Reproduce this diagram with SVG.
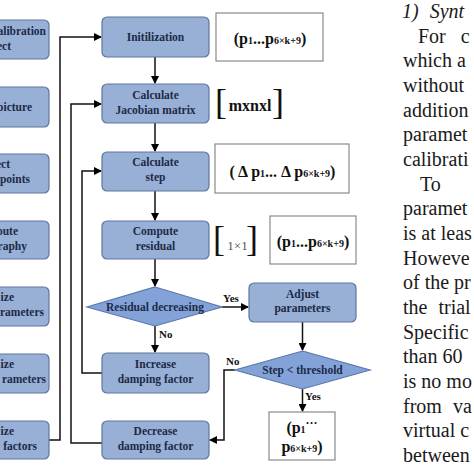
<svg xmlns="http://www.w3.org/2000/svg" width="474" height="474" viewBox="0 0 474 474">
<defs>
<marker id="ah" markerWidth="8" markerHeight="8" refX="7" refY="4" orient="auto" markerUnits="userSpaceOnUse">
<path d="M0,0 L8,4 L0,8 Z" fill="#000"/>
</marker>
<style>
.box{fill:#98b0d5;stroke:#5f769c;stroke-width:1.2}
.dia{fill:#83a3d8;stroke:#5a78ab;stroke-width:1.2}
.wb{fill:#fff;stroke:#8a8a8a;stroke-width:1.2}
.t{font-family:"Liberation Serif","Times New Roman",serif;font-weight:bold;font-size:11.5px;fill:#1c2a48;text-anchor:middle}
.tl{font-family:"Liberation Serif","Times New Roman",serif;font-weight:bold;font-size:11.5px;fill:#1c2a48;text-anchor:end}
.lab{font-family:"Liberation Serif","Times New Roman",serif;font-weight:bold;font-size:11px;fill:#111}
.m{font-family:"Liberation Serif","Times New Roman",serif;font-weight:bold;font-size:16px;fill:#111;text-anchor:middle}
.br{font-family:"Liberation Serif","Times New Roman",serif;font-size:36px;fill:#111}
.p{font-family:"Liberation Serif","Times New Roman",serif;font-size:20px;fill:#1a1a1a}
.c{fill:none;stroke:#111;stroke-width:1.5}
</style>
</defs>

<g id="connectors">
<path class="c" d="M49,440 H60 V37 H101" marker-end="url(#ah)"/>
<path class="c" d="M102,443 H71 V104 H101" marker-end="url(#ah)"/>
<path class="c" d="M102,373 H82 V171 H101" marker-end="url(#ah)"/>
<path class="c" d="M155,57 V83" marker-end="url(#ah)"/>
<path class="c" d="M155,123 V151" marker-end="url(#ah)"/>
<path class="c" d="M155,191 V220" marker-end="url(#ah)"/>
<path class="c" d="M155,259 V286" marker-end="url(#ah)"/>
<path class="c" d="M155,326 V352" marker-end="url(#ah)"/>
<path class="c" d="M222,307 H248" marker-end="url(#ah)"/>
<path class="c" d="M302.5,322 V350" marker-end="url(#ah)"/>
<path class="c" d="M235,370 H224 V440 H210" marker-end="url(#ah)"/>
<path class="c" d="M302.5,389 V411" marker-end="url(#ah)"/>
<text class="lab" x="159" y="338">No</text>
<text class="lab" x="223" y="302">Yes</text>
<text class="lab" x="226" y="365">No</text>
<text class="lab" x="305" y="400">Yes</text>
</g>

<g id="left1"><rect class="box" x="-60" y="20" width="109" height="39" rx="5"/><text class="tl" x="46" y="35">alibration</text><text class="tl" x="11" y="50">ect</text></g>
<g id="left2"><rect class="box" x="-60" y="87" width="109" height="40" rx="5"/><text class="tl" x="32" y="111">picture</text></g>
<g id="left3"><rect class="box" x="-60" y="154" width="109" height="39" rx="5"/><text class="tl" x="10" y="168">ect</text><text class="tl" x="30" y="183">points</text></g>
<g id="left4"><rect class="box" x="-60" y="221" width="109" height="38" rx="5"/><text class="tl" x="18" y="235">oute</text><text class="tl" x="27" y="250">raphy</text></g>
<g id="left5"><rect class="box" x="-60" y="287" width="109" height="39" rx="5"/><text class="tl" x="14" y="301">ize</text><text class="tl" x="44" y="316">parameters</text></g>
<g id="left6"><rect class="box" x="-60" y="354" width="109" height="39" rx="5"/><text class="tl" x="14" y="368">ize</text><text class="tl" x="46" y="383">rameters</text></g>
<g id="left7"><rect class="box" x="-60" y="421" width="109" height="38" rx="5"/><text class="tl" x="14" y="435">ize</text><text class="tl" x="37" y="450">factors</text></g>

<g id="init"><rect class="box" x="102" y="17" width="107" height="40" rx="5"/><text class="t" x="155.5" y="41">Initilization</text></g>
<g id="jacobian"><rect class="box" x="102" y="84" width="107" height="39" rx="5"/><text class="t" x="155.5" y="99">Calculate</text><text class="t" x="155.5" y="114">Jacobian matrix</text></g>
<g id="step"><rect class="box" x="102" y="152" width="107" height="39" rx="5"/><text class="t" x="155.5" y="166">Calculate</text><text class="t" x="155.5" y="181">step</text></g>
<g id="residual"><rect class="box" x="102" y="221" width="107" height="38" rx="5"/><text class="t" x="155.5" y="235">Compute</text><text class="t" x="155.5" y="250">residual</text></g>
<g id="resdec"><polygon class="dia" points="155,287 222,307 155,326 87,307"/><text class="t" x="155" y="311">Residual decreasing</text></g>
<g id="increase"><rect class="box" x="102" y="353" width="107" height="40" rx="5"/><text class="t" x="155.5" y="368">Increase</text><text class="t" x="155.5" y="383">damping factor</text></g>
<g id="decrease"><rect class="box" x="102" y="421" width="107" height="38" rx="5"/><text class="t" x="155.5" y="435">Decrease</text><text class="t" x="155.5" y="450">damping factor</text></g>
<g id="adjust"><rect class="box" x="249" y="283" width="107" height="39" rx="5"/><text class="t" x="302.5" y="298">Adjust</text><text class="t" x="302.5" y="312">parameters</text></g>
<g id="threshold"><polygon class="dia" points="302.5,351 370,370 302.5,389 235,370"/><text class="t" x="302.5" y="374">Step &lt; threshold</text></g>
<g id="output"><rect class="wb" x="269" y="412" width="66" height="48"/>
<text class="m" x="302" y="433">(p<tspan font-size="10">1</tspan><tspan font-size="12" dy="-6">···</tspan></text>
<text class="m" x="302" y="452">p<tspan font-size="10">6×k+9</tspan>)</text></g>

<g id="boxA"><rect class="wb" x="216" y="13" width="107" height="48"/><text class="m" x="270" y="44">(p<tspan font-size="10">1</tspan>...p<tspan font-size="10">6×k+9</tspan>)</text></g>
<g id="matA"><text class="br" x="215" y="114">[</text><text class="m" x="250" y="111" font-size="15.5">mxnxl</text><text class="br" x="272" y="114">]</text></g>
<g id="boxB"><rect class="wb" x="215" y="144" width="134" height="49"/><text class="m" x="282.5" y="177">( Δ p<tspan font-size="10">1</tspan>... Δ p<tspan font-size="10">6×k+9</tspan>)</text></g>
<g id="matB"><text class="br" x="213" y="251">[</text><text x="237.5" y="250" font-family="Liberation Serif, serif" font-size="13" fill="#555" text-anchor="middle">1×1</text><text class="br" x="246" y="251">]</text></g>
<g id="boxC"><rect class="wb" x="270" y="216" width="86" height="48"/><text class="m" x="313" y="247">(p<tspan font-size="10">1</tspan>...p<tspan font-size="10">6×k+9</tspan>)</text></g>

<g id="paper">
<text class="p" x="402" y="18" font-style="italic" word-spacing="6">1) Synt</text>
<text class="p" x="418" y="43" word-spacing="10">For c</text>
<text class="p" x="403" y="67">which a</text>
<text class="p" x="403" y="92">without</text>
<text class="p" x="403" y="117">addition</text>
<text class="p" x="403" y="141">paramet</text>
<text class="p" x="403" y="166">calibrati</text>
<text class="p" x="420" y="191">To</text>
<text class="p" x="403" y="215">paramet</text>
<text class="p" x="403" y="240">is at leas</text>
<text class="p" x="403" y="265">Howeve</text>
<text class="p" x="403" y="289">of the pr</text>
<text class="p" x="403" y="314" word-spacing="6">the trial</text>
<text class="p" x="403" y="339">Specific</text>
<text class="p" x="403" y="363">than 60</text>
<text class="p" x="403" y="388">is no mo</text>
<text class="p" x="403" y="413" word-spacing="6">from va</text>
<text class="p" x="403" y="437">virtual c</text>
<text class="p" x="403" y="462">between</text>
</g>
</svg>
